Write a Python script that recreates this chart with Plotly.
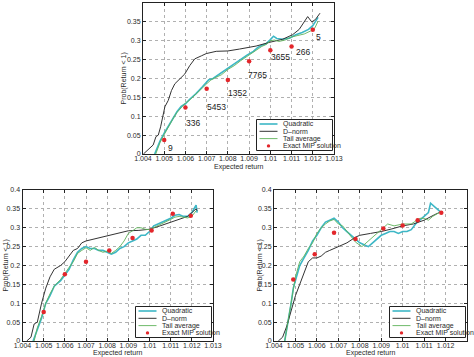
import plotly.graph_objects as go

# ---------------- data ----------------
# Top panel
top_dnorm_x = [1.00402, 1.00425, 1.00448, 1.00461, 1.00472, 1.00483, 1.00492, 1.00503, 1.00519, 1.00534,
               1.0055, 1.00573, 1.00597, 1.0062, 1.00644, 1.00675, 1.00698, 1.00745, 1.008, 1.00855,
               1.00933, 1.00998, 1.01058, 1.01105, 1.01136, 1.01176, 1.01195, 1.01212, 1.01234]
top_dnorm_y = [0.0, 0.011, 0.024, 0.046, 0.05, 0.072, 0.098, 0.125, 0.142, 0.168,
               0.186, 0.2, 0.212, 0.234, 0.252, 0.26, 0.266, 0.272, 0.273, 0.278,
               0.286, 0.296, 0.304, 0.316, 0.33, 0.364, 0.35, 0.356, 0.373]
top_quad_x = [1.00455, 1.0048, 1.005, 1.0052, 1.0054, 1.0056, 1.0058, 1.006, 1.0062, 1.0065,
              1.0068, 1.007, 1.0071, 1.0073, 1.0076, 1.008, 1.0083, 1.0086, 1.0089, 1.0092,
              1.0094, 1.0096, 1.0098, 1.0100, 1.01015, 1.0103, 1.0106, 1.0109, 1.0112, 1.0115,
              1.0118, 1.012, 1.01225]
top_quad_y = [0.0, 0.034, 0.055, 0.075, 0.095, 0.112, 0.126, 0.133, 0.145, 0.16,
              0.178, 0.19, 0.197, 0.2, 0.212, 0.226, 0.238, 0.25, 0.262, 0.272,
              0.282, 0.288, 0.292, 0.303, 0.312, 0.306, 0.304, 0.307, 0.316, 0.322,
              0.33, 0.34, 0.362]
top_tail_x = [1.0046, 1.0048, 1.005, 1.0052, 1.0054, 1.0056, 1.0058, 1.006, 1.0062, 1.0065,
              1.0068, 1.007, 1.0072, 1.0074, 1.0077, 1.008, 1.0083, 1.0086, 1.0089, 1.0092,
              1.0094, 1.0096, 1.0098, 1.01, 1.0102, 1.0104, 1.0107, 1.011, 1.0113, 1.0116,
              1.0119, 1.0121, 1.01225]
top_tail_y = [0.0, 0.03, 0.052, 0.073, 0.092, 0.11, 0.124, 0.135, 0.143, 0.158,
              0.175, 0.186, 0.196, 0.202, 0.21, 0.224, 0.234, 0.247, 0.258, 0.27,
              0.278, 0.285, 0.29, 0.3, 0.302, 0.298, 0.302, 0.31, 0.314, 0.318,
              0.326, 0.334, 0.352]
top_mip_x = [1.005, 1.006, 1.007, 1.008, 1.009, 1.010, 1.011, 1.012]
top_mip_y = [0.037, 0.123, 0.173, 0.196, 0.246, 0.275, 0.285, 0.329]
top_labels = ["9", "336", "5453", "1352", "7765", "3655", "266", "5"]
top_label_x = [1.00531, 1.00636, 1.00745, 1.00847, 1.0094, 1.0105, 1.01152, 1.01227]
top_label_y = [0.017, 0.082, 0.125, 0.161, 0.208, 0.256, 0.271, 0.31]

# Bottom-left panel
bl_dnorm_x = [1.0042, 1.0044, 1.00455, 1.0047, 1.0049, 1.0051, 1.0053, 1.0055, 1.0058, 1.006,
              1.0062, 1.0064, 1.0066, 1.0068, 1.007, 1.0075, 1.008, 1.0085, 1.009, 1.0095,
              1.01, 1.0105, 1.011, 1.0115, 1.0118, 1.012, 1.0122, 1.01225]
bl_dnorm_y = [0.0, 0.01, 0.045, 0.05, 0.1, 0.14, 0.17, 0.19, 0.2, 0.21,
              0.225, 0.24, 0.245, 0.26, 0.265, 0.272, 0.278, 0.285, 0.292, 0.293,
              0.296, 0.305, 0.315, 0.326, 0.33, 0.34, 0.35, 0.345]
bl_quad_x = [1.0045, 1.0047, 1.0049, 1.0051, 1.0053, 1.0055, 1.0058, 1.006, 1.0062, 1.0064,
             1.0066, 1.0068, 1.007, 1.0072, 1.0074, 1.0076, 1.0078, 1.008, 1.0082, 1.0084,
             1.0086, 1.0088, 1.009, 1.0092, 1.0094, 1.0096, 1.0098, 1.01, 1.0102, 1.0104,
             1.0106, 1.0108, 1.011, 1.0112, 1.0114, 1.0116, 1.0118, 1.012, 1.0122, 1.01225]
bl_quad_y = [0.0, 0.03, 0.06, 0.1, 0.12, 0.145, 0.16, 0.175, 0.19, 0.215,
             0.235, 0.245, 0.25, 0.245, 0.245, 0.24, 0.24, 0.235, 0.23, 0.235,
             0.245, 0.25, 0.26, 0.265, 0.27, 0.28, 0.28, 0.29, 0.305, 0.31,
             0.315, 0.318, 0.325, 0.333, 0.335, 0.33, 0.33, 0.34, 0.36, 0.34]
bl_tail_x = [1.00455, 1.0047, 1.0049, 1.0051, 1.0053, 1.0055, 1.0058, 1.006, 1.0062, 1.0064,
             1.0066, 1.0068, 1.007, 1.0072, 1.0074, 1.0076, 1.0078, 1.008, 1.0082, 1.0084,
             1.0086, 1.0088, 1.009, 1.0092, 1.0094, 1.0096, 1.0098, 1.01, 1.0102, 1.0104,
             1.0106, 1.0108, 1.011, 1.0112, 1.0114, 1.0116, 1.0118, 1.012, 1.0122]
bl_tail_y = [0.0, 0.035, 0.065, 0.1, 0.125, 0.145, 0.163, 0.18, 0.195, 0.21,
             0.232, 0.24, 0.247, 0.24, 0.248, 0.24, 0.235, 0.238, 0.232, 0.24,
             0.25, 0.265, 0.285, 0.292, 0.3, 0.3, 0.296, 0.295, 0.3, 0.305,
             0.31, 0.315, 0.322, 0.328, 0.33, 0.328, 0.326, 0.33, 0.345]
bl_mip_x = [1.005, 1.006, 1.007, 1.0081, 1.0092, 1.0101, 1.0111, 1.01195]
bl_mip_y = [0.077, 0.177, 0.21, 0.24, 0.273, 0.293, 0.337, 0.332]

# Bottom-right panel
br_dnorm_x = [1.0042, 1.0044, 1.0046, 1.0048, 1.005, 1.0052, 1.0054, 1.0056, 1.0058, 1.006,
              1.0062, 1.0064, 1.0066, 1.0068, 1.007, 1.0074, 1.0078, 1.008, 1.0085, 1.009,
              1.0095, 1.01, 1.0105, 1.011, 1.0115, 1.0117]
br_dnorm_y = [0.0, 0.01, 0.04, 0.08, 0.12, 0.15, 0.18, 0.21, 0.22, 0.22,
              0.225, 0.235, 0.24, 0.245, 0.25, 0.26, 0.275, 0.28, 0.285, 0.29,
              0.297, 0.305, 0.31, 0.32, 0.335, 0.34]
br_quad_x = [1.0045, 1.0046, 1.0048, 1.0049, 1.005, 1.0052, 1.0054, 1.0056, 1.0058, 1.006,
             1.0062, 1.0064, 1.0066, 1.0068, 1.007, 1.0072, 1.0074, 1.0076, 1.0078, 1.008,
             1.0082, 1.0084, 1.0086, 1.0088, 1.009, 1.0092, 1.0094, 1.0096, 1.0098, 1.01,
             1.0102, 1.0104, 1.0106, 1.0108, 1.011, 1.0112, 1.0113, 1.0115, 1.0117, 1.0118]
br_quad_y = [0.0, 0.03, 0.1, 0.14, 0.16, 0.2, 0.22, 0.24, 0.265, 0.28,
             0.3, 0.315, 0.32, 0.325, 0.315, 0.3, 0.29, 0.28, 0.27, 0.26,
             0.255, 0.25, 0.26, 0.27, 0.28, 0.285, 0.29, 0.29, 0.285, 0.29,
             0.29, 0.295, 0.31, 0.32, 0.33, 0.34, 0.365, 0.355, 0.345, 0.34]
br_tail_x = [1.0045, 1.0046, 1.0048, 1.005, 1.0052, 1.0054, 1.0056, 1.0058, 1.006, 1.0062,
             1.0064, 1.0066, 1.0068, 1.007, 1.0072, 1.0074, 1.0076, 1.0078, 1.0081, 1.0085,
             1.009, 1.0093, 1.0096, 1.01, 1.0104, 1.0108, 1.011, 1.0112, 1.0114, 1.0117]
br_tail_y = [0.0, 0.035, 0.1, 0.17, 0.21, 0.225, 0.245, 0.26, 0.285, 0.3,
             0.31, 0.318, 0.322, 0.31, 0.305, 0.29, 0.275, 0.262, 0.25, 0.27,
             0.295, 0.31, 0.305, 0.31, 0.31, 0.325, 0.325, 0.32, 0.33, 0.34]
br_mip_x = [1.0049, 1.0059, 1.0068, 1.0078, 1.0091, 1.0100, 1.0107, 1.0118]
br_mip_y = [0.163, 0.23, 0.287, 0.27, 0.298, 0.306, 0.32, 0.34]

x_ticks = [1.004, 1.005, 1.006, 1.007, 1.008, 1.009, 1.010, 1.011, 1.012, 1.013]
x_tick_text = ["1.004", "1.005", "1.006", "1.007", "1.008", "1.009", "1.01", "1.011", "1.012", "1.013"]
y_ticks = [0, 0.05, 0.1, 0.15, 0.2, 0.25, 0.3, 0.35, 0.4]
y_tick_text = ["0", "0.05", "0.1", "0.15", "0.2", "0.25", "0.3", "0.35", "0.4"]
series_names = ["Quadratic", "D\u2013norm", "Tail average", "Exact MIP solution"]
x_title = "Expected return"
y_title = "Prob(Return &lt; 1)"

# ---------------- styling ----------------
W, H = 474, 357
C_QUAD = "#3db7c6"
C_DNORM = "#333333"
C_TAIL = "#5fb25a"
C_MIP = "#e3262b"
FONT = "Liberation Sans, Arial, sans-serif"
TXT = "#2a2a2a"

fig = go.Figure()

panels = [
    # (xaxis id, yaxis id, x-domain px, y-domain px, y-title px, x-title offset, data)
    ("x", "y", (143, 334), (3, 154), 123, 13,
     (top_quad_x, top_quad_y, top_dnorm_x, top_dnorm_y, top_tail_x, top_tail_y, top_mip_x, top_mip_y)),
    ("x2", "y2", (22.5, 213), (190, 341), 5, 12.3,
     (bl_quad_x, bl_quad_y, bl_dnorm_x, bl_dnorm_y, bl_tail_x, bl_tail_y, bl_mip_x, bl_mip_y)),
    ("x3", "y3", (274, 467), (190, 341), 259, 12.3,
     (br_quad_x, br_quad_y, br_dnorm_x, br_dnorm_y, br_tail_x, br_tail_y, br_mip_x, br_mip_y)),
]

layout = dict(
    width=W, height=H, margin=dict(l=0, r=0, t=0, b=0, autoexpand=False),
    paper_bgcolor="white", plot_bgcolor="white",
    font=dict(family=FONT, size=7, color=TXT),
    showlegend=False,
)

def px(xp):
    return xp / W

def py(yp):
    return 1 - yp / H

shapes = []
annotations = []

for i, (xa, ya, (x0, x1), (y0, y1), ytx, xto, d) in enumerate(panels):
    qx, qy, dx, dy, tx, ty, mx, my = d
    fig.add_trace(go.Scatter(x=qx, y=qy, mode="lines", name=series_names[0],
                             line=dict(color=C_QUAD, width=1.6), xaxis=xa, yaxis=ya))
    fig.add_trace(go.Scatter(x=dx, y=dy, mode="lines", name=series_names[1],
                             line=dict(color=C_DNORM, width=1.0), xaxis=xa, yaxis=ya))
    fig.add_trace(go.Scatter(x=tx, y=ty, mode="lines", name=series_names[2],
                             line=dict(color=C_TAIL, width=0.9), xaxis=xa, yaxis=ya))
    fig.add_trace(go.Scatter(x=mx, y=my, mode="markers", name=series_names[3],
                             marker=dict(color=C_MIP, size=4.5), xaxis=xa, yaxis=ya))
    sfx = "" if i == 0 else str(i + 1)
    common = dict(showline=True, linecolor="#222222", linewidth=1, mirror="allticks",
                  ticks="inside", ticklen=3, tickcolor="#222222", automargin=False,
                  showgrid=True, gridcolor="#b0b0b0", griddash="dot", gridwidth=0.8,
                  zeroline=False, tickfont=dict(size=7, color=TXT, family=FONT))
    layout["xaxis" + sfx] = dict(common, domain=[px(x0), px(x1)], range=[1.004, 1.013],
                                 tickvals=x_ticks, ticktext=x_tick_text, anchor=ya,
                                 ticklabelstandoff=-2)
    layout["yaxis" + sfx] = dict(common, domain=[py(y1), py(y0)], range=[0, 0.4],
                                 tickvals=y_ticks, ticktext=y_tick_text, anchor=xa)

    # axis titles
    annotations.append(dict(x=px((x0 + x1) / 2), y=py(y1 + xto), xref="paper", yref="paper",
                            text=x_title, showarrow=False, xanchor="center", yanchor="middle",
                            font=dict(size=7, color=TXT, family=FONT)))
    annotations.append(dict(x=px(ytx), y=py((y0 + y1) / 2), xref="paper", yref="paper",
                            text=y_title, showarrow=False, xanchor="center", yanchor="middle",
                            textangle=-90, font=dict(size=7, color=TXT, family=FONT)))

    # legend box (drawn manually)
    R = x1 - 1.5
    L = R - 76
    B = y1 - 3.5
    T = B - 31
    shapes.append(dict(type="rect", xref="paper", yref="paper",
                       x0=px(L), x1=px(R), y0=py(B), y1=py(T),
                       line=dict(color="#222222", width=1), fillcolor="white", layer="above"))
    rows = [T + 4.5, T + 11.8, T + 19.1, T + 26.4]
    styles = [(C_QUAD, 1.6), (C_DNORM, 1.0), (C_TAIL, 0.9)]
    for k in range(3):
        shapes.append(dict(type="line", xref="paper", yref="paper",
                           x0=px(L + 3), x1=px(L + 21), y0=py(rows[k]), y1=py(rows[k]),
                           line=dict(color=styles[k][0], width=styles[k][1]), layer="above"))
    shapes.append(dict(type="circle", xref="paper", yref="paper",
                       x0=px(L + 10.3), x1=px(L + 13.7), y0=py(rows[3] + 1.7), y1=py(rows[3] - 1.7),
                       line=dict(color=C_MIP, width=0), fillcolor=C_MIP, layer="above"))
    for k in range(4):
        annotations.append(dict(x=px(L + 24), y=py(rows[k]), xref="paper", yref="paper",
                                text=series_names[k], showarrow=False, xanchor="left", yanchor="middle",
                                font=dict(size=7, color=TXT, family=FONT)))

for lbl, lx, ly in zip(top_labels, top_label_x, top_label_y):
    annotations.append(dict(x=lx, y=ly, xref="x", yref="y", text=lbl, showarrow=False,
                            font=dict(size=8.5, color="#222222", family=FONT)))

layout["shapes"] = shapes
layout["annotations"] = annotations

fig.update_layout(**layout)
fig.write_html("out.html", config={"displayModeBar": False},
               post_script="document.body.style.margin='0px';document.body.style.padding='0px';")
